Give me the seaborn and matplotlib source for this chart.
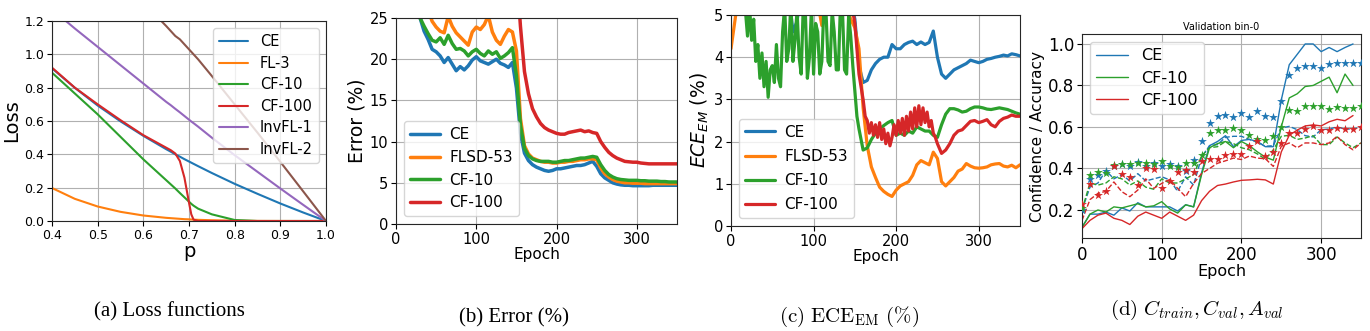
import matplotlib
matplotlib.use("Agg")
import matplotlib.pyplot as plt
import seaborn as sns
import numpy as np

# ---------------- (a) loss functions ----------------
p_vals = [0.40, 0.45, 0.50, 0.55, 0.60, 0.65, 0.66, 0.67, 0.68, 0.69, 0.70,
          0.705, 0.71, 0.72, 0.75, 0.80, 0.85, 0.90, 0.95, 1.00]
loss_ce = [0.916, 0.799, 0.693, 0.598, 0.511, 0.431, 0.416, 0.400, 0.386, 0.371, 0.357,
           0.350, 0.343, 0.329, 0.288, 0.223, 0.163, 0.105, 0.051, 0.0]
loss_fl3 = [0.198, 0.133, 0.087, 0.055, 0.033, 0.019, 0.017, 0.015, 0.013, 0.011, 0.010,
            0.009, 0.008, 0.007, 0.0045, 0.0018, 0.0005, 0.0001, 0.0, 0.0]
loss_cf10 = [0.89, 0.765, 0.64, 0.505, 0.37, 0.245, 0.22, 0.195, 0.168, 0.142, 0.116,
             0.103, 0.092, 0.074, 0.04, 0.006, 0.0, 0.0, 0.0, 0.0]
loss_cf100 = [0.92, 0.80, 0.70, 0.605, 0.515, 0.44, 0.425, 0.405, 0.36, 0.26, 0.11,
              0.04, 0.008, 0.0, 0.0, 0.0, 0.0, 0.0, 0.0, 0.0]
loss_invfl1 = [1.27, 1.155, 1.045, 0.935, 0.825, 0.715, 0.695, 0.673, 0.652, 0.63, 0.608,
               0.597, 0.587, 0.566, 0.5, 0.395, 0.295, 0.195, 0.097, 0.0]
loss_invfl2 = [1.85, 1.72, 1.59, 1.45, 1.31, 1.17, 1.14, 1.11, 1.09, 1.06, 1.03,
               1.015, 1.0, 0.97, 0.87, 0.70, 0.53, 0.355, 0.178, 0.0]

# ---------------- (b) error ----------------
epochs = list(range(0, 351, 5))

err_ce = [50.0, 44.0, 39.0, 35.0, 31.0, 27.5, 25.0, 23.4, 22.4, 21.2,
          20.9, 20.4, 19.6, 20.2, 19.4, 18.6, 19.1, 18.7, 19.2, 19.9,
          20.3, 19.8, 19.6, 19.4, 19.7, 20.0, 19.5, 19.3, 19.0, 19.6,
          16.5, 11.0, 8.6, 7.7, 7.2, 6.9, 6.7, 6.5, 6.4, 6.5,
          6.7, 6.7, 6.8, 6.9, 7.0, 7.1, 7.1, 7.2, 7.4, 7.6,
          7.0, 6.1, 5.6, 5.3, 5.0, 4.85, 4.75, 4.7, 4.7, 4.65,
          4.65, 4.65, 4.65, 4.65, 4.7, 4.7, 4.7, 4.7, 4.7, 4.7, 4.7]
err_flsd = [60.0, 52.0, 46.0, 41.0, 37.0, 33.0, 30.0, 28.0, 26.0, 24.6,
            23.9, 23.4, 23.2, 25.2, 24.0, 23.2, 22.7, 22.2, 21.7, 23.3,
            23.9, 23.6, 24.2, 25.3, 23.3, 22.3, 21.8, 22.8, 23.6, 23.3,
            21.0, 12.8, 9.5, 8.5, 8.0, 7.8, 7.6, 7.5, 7.5, 7.4,
            7.4, 7.5, 7.5, 7.6, 7.6, 7.7, 7.8, 7.8, 7.9, 7.9,
            7.8, 6.8, 6.1, 5.7, 5.4, 5.2, 5.1, 5.0, 5.0, 4.95,
            4.95, 4.95, 4.9, 4.9, 4.9, 4.9, 4.9, 4.9, 4.9, 4.9, 4.9]
err_cf10 = [52.0, 45.0, 40.0, 35.0, 31.0, 27.5, 25.0, 24.0, 23.1, 22.3,
            22.1, 22.6, 21.8, 22.9, 21.9, 21.2, 21.3, 21.0, 20.4, 20.9,
            21.2, 20.7, 20.4, 21.0, 20.6, 20.9, 20.1, 20.4, 20.8, 21.4,
            18.0, 12.0, 9.2, 8.3, 7.9, 7.7, 7.6, 7.6, 7.6, 7.5,
            7.5, 7.6, 7.7, 7.7, 7.8, 7.9, 8.0, 8.0, 8.1, 8.2,
            8.1, 7.2, 6.5, 6.0, 5.7, 5.5, 5.4, 5.35, 5.3, 5.3,
            5.3, 5.25, 5.25, 5.2, 5.2, 5.2, 5.15, 5.15, 5.1, 5.1, 5.1]
err_cf100 = [90.0, 80.0, 72.0, 66.0, 61.0, 57.0, 54.0, 51.0, 49.0, 47.0,
             45.5, 44.0, 43.0, 42.0, 41.0, 40.0, 39.5, 39.0, 38.5, 38.0,
             37.5, 37.0, 36.5, 36.0, 35.5, 35.0, 34.5, 34.0, 33.5, 33.0,
             31.0, 24.0, 18.5, 15.8, 14.0, 13.0, 12.2, 11.7, 11.4, 11.2,
             11.0, 10.9, 10.9, 11.1, 11.2, 11.3, 11.4, 11.2, 11.3, 11.1,
             11.0, 10.0, 9.3, 8.7, 8.3, 8.0, 7.8, 7.6, 7.55, 7.5,
             7.5, 7.4, 7.35, 7.3, 7.3, 7.3, 7.3, 7.3, 7.3, 7.3, 7.3]

# ---------------- (c) ECE ----------------
ece_ce = [7.5, 7.3, 7.0, 6.8, 6.6, 6.4, 6.2, 6.0, 5.9, 5.8,
          5.7, 5.6, 5.5, 5.4, 5.5, 4.6, 4.85, 5.6, 5.8, 5.7,
          5.9, 5.8, 5.7, 5.8, 5.6, 5.7, 5.6, 5.5, 5.6, 5.4,
          4.9, 3.8, 3.4, 3.45, 3.7, 3.85, 3.95, 4.0, 4.0, 4.3,
          4.2, 4.2, 4.3, 4.35, 4.38, 4.3, 4.36, 4.3, 4.35, 4.62,
          4.0, 3.6, 3.5, 3.6, 3.7, 3.75, 3.8, 3.85, 3.93, 3.9,
          3.87, 3.9, 3.95, 3.97, 4.0, 4.02, 4.05, 4.03, 4.08, 4.06, 4.03]
ece_flsd = [4.2, 4.9, 5.6, 6.0, 6.3, 6.4, 6.5, 6.4, 6.3, 6.2,
            6.1, 6.0, 5.9, 5.8, 5.8, 5.7, 5.6, 5.6, 5.5, 5.5,
            5.4, 5.3, 4.75, 5.3, 5.5, 5.4, 5.4, 5.5, 5.2, 4.9,
            4.7, 4.2, 2.8, 1.9, 1.4, 1.15, 0.92, 0.82, 0.75, 0.7,
            0.85, 0.95, 1.0, 1.05, 1.2, 1.45, 1.55, 1.5, 1.45, 1.75,
            1.6, 1.05, 0.95, 1.05, 1.15, 1.3, 1.35, 1.48, 1.42, 1.38,
            1.37, 1.38, 1.4, 1.45, 1.47, 1.48, 1.42, 1.4, 1.44, 1.38, 1.45]

# CF-10 is logged more densely while it is noisy (epochs 0-155)
ece_cf10_epochs = list(np.arange(0, 155.1, 2.5)) + list(range(160, 351, 5))
ece_cf10 = [6.5, 6.3, 6.0, 6.2, 5.8, 5.6, 5.3, 5.1, 4.5, 5.2,
            4.4, 4.9, 3.9, 4.3, 3.5, 4.1, 3.3, 3.9, 3.05, 3.7,
            3.8, 3.4, 4.3, 3.5, 3.3, 4.6, 5.2, 3.9, 4.2, 5.3,
            3.9, 4.4, 5.1, 4.0, 3.6, 5.2, 5.1, 3.5, 4.0, 5.2,
            3.6, 4.8, 4.6, 3.6, 3.9, 5.2, 5.1, 3.9, 3.8, 5.1,
            4.6, 3.7, 3.7, 5.2, 5.1, 3.7, 3.6, 5.0, 4.5, 3.8,
            3.2, 2.6, 2.3,
            1.8, 1.85, 2.05, 2.2, 2.3, 2.38, 2.45, 2.5,
            2.15, 2.2, 2.15, 2.25, 2.2, 2.35, 2.3, 2.25, 2.25, 2.15,
            2.1, 2.4, 2.65, 2.78, 2.78, 2.75, 2.7, 2.72, 2.78, 2.82,
            2.82, 2.8, 2.77, 2.76, 2.78, 2.8, 2.78, 2.76, 2.72, 2.68, 2.65]

# CF-100 is logged more densely while it is noisy (epochs 160-250)
ece_cf100_epochs = (list(range(0, 156, 5)) + list(np.arange(160, 250.1, 2.5))
                    + list(range(255, 351, 5)))
ece_cf100 = [7.0, 7.2, 7.4, 7.5, 7.6, 7.5, 7.4, 7.3, 7.2, 7.1,
             7.0, 6.9, 6.8, 6.7, 6.6, 6.5, 6.4, 6.3, 6.2, 6.1,
             6.0, 5.9, 5.8, 5.8, 5.7, 5.7, 5.6, 5.6, 5.5, 5.4,
             4.8, 3.6,
             3.0, 2.6, 2.5, 2.2, 2.45, 2.15, 2.4, 2.1, 2.45, 2.05,
             2.3, 1.95, 2.2, 1.9, 2.1, 2.4, 2.15, 2.5, 2.2, 2.55,
             2.15, 2.6, 2.25, 2.7, 2.3, 2.8, 2.35, 2.85, 2.4, 2.8,
             2.45, 2.7, 2.35, 2.5, 2.2, 2.1, 1.95,
             1.72, 1.8, 1.95, 2.15, 2.25, 2.28, 2.38, 2.48, 2.5,
             2.45, 2.48, 2.52, 2.4, 2.35, 2.48, 2.55, 2.58, 2.63, 2.6, 2.6]

# ---------------- (d) validation bin-0 ----------------
epochs_d_line = list(range(0, 341, 10))
epochs_d = list(range(0, 351, 10))

ce_line = [0.117, 0.18, 0.18, 0.19, 0.175, 0.21, 0.195, 0.235, 0.215, 0.215,
           0.215, 0.215, 0.195, 0.225, 0.215, 0.38, 0.51, 0.53, 0.558, 0.505,
           0.535, 0.54, 0.53, 0.505, 0.505, 0.73, 0.9, 0.95, 1.0, 1.0,
           0.963, 0.983, 0.963, 0.983, 1.0]
cf10_line = [0.115, 0.18, 0.2, 0.19, 0.215, 0.21, 0.22, 0.23, 0.215, 0.22,
             0.24, 0.205, 0.185, 0.225, 0.215, 0.37, 0.5, 0.52, 0.53, 0.5,
             0.53, 0.51, 0.48, 0.455, 0.44, 0.6, 0.74, 0.76, 0.795, 0.8,
             0.82, 0.84, 0.765, 0.855, 0.8]
cf100_line = [0.11, 0.15, 0.175, 0.185, 0.16, 0.15, 0.13, 0.17, 0.19, 0.175,
              0.16, 0.19, 0.17, 0.15, 0.175, 0.245, 0.29, 0.318, 0.325, 0.335,
              0.343, 0.345, 0.348, 0.345, 0.325, 0.48, 0.56, 0.585, 0.605, 0.61,
              0.605, 0.625, 0.637, 0.63, 0.655]

ce_dash = [0.2, 0.31, 0.33, 0.39, 0.35, 0.37, 0.34, 0.375, 0.34, 0.35,
           0.36, 0.345, 0.29, 0.36, 0.32, 0.455, 0.51, 0.515, 0.55, 0.555,
           0.555, 0.54, 0.527, 0.507, 0.51, 0.595, 0.603, 0.587, 0.558, 0.552,
           0.587, 0.59, 0.6, 0.59, 0.59, 0.6]
cf10_dash = [0.2, 0.33, 0.32, 0.33, 0.36, 0.35, 0.32, 0.34, 0.31, 0.3,
             0.35, 0.33, 0.33, 0.35, 0.37, 0.46, 0.5, 0.505, 0.53, 0.52,
             0.5, 0.49, 0.47, 0.445, 0.49, 0.555, 0.56, 0.54, 0.547, 0.558,
             0.515, 0.515, 0.552, 0.523, 0.5, 0.523]
cf100_dash = [0.15, 0.25, 0.28, 0.29, 0.335, 0.288, 0.264, 0.296, 0.35, 0.304,
              0.328, 0.347, 0.304, 0.264, 0.328, 0.376, 0.4, 0.425, 0.437, 0.45,
              0.443, 0.46, 0.45, 0.447, 0.41, 0.507, 0.523, 0.5, 0.523, 0.523,
              0.515, 0.523, 0.555, 0.515, 0.49, 0.523]

ce_star = [0.2, 0.35, 0.37, 0.39, 0.41, 0.42, 0.41, 0.43, 0.41, 0.424,
           0.41, 0.42, 0.41, 0.39, 0.44, 0.532, 0.619, 0.651, 0.659, 0.648,
           0.667, 0.648, 0.678, 0.654, 0.648, 0.723, 0.851, 0.886, 0.894, 0.894,
           0.883, 0.904, 0.907, 0.907, 0.91, 0.91]
cf10_star = [0.21, 0.367, 0.383, 0.38, 0.418, 0.42, 0.42, 0.424, 0.424, 0.42,
             0.436, 0.41, 0.408, 0.424, 0.425, 0.464, 0.571, 0.585, 0.587, 0.594,
             0.587, 0.562, 0.542, 0.539, 0.558, 0.6, 0.68, 0.678, 0.702, 0.702,
             0.702, 0.686, 0.696, 0.691, 0.691, 0.702]
cf100_star = [0.23, 0.325, 0.272, 0.29, 0.41, 0.375, 0.36, 0.32, 0.40, 0.398,
              0.307, 0.34, 0.382, 0.395, 0.385, 0.435, 0.447, 0.447, 0.465, 0.472,
              0.472, 0.51, 0.53, 0.458, 0.48, 0.523, 0.57, 0.572, 0.588, 0.603,
              0.585, 0.585, 0.595, 0.588, 0.588, 0.6]

BLUE, ORANGE, GREEN, RED, PURPLE, BROWN = (
    "#1f77b4", "#ff7f0e", "#2ca02c", "#d62728", "#9467bd", "#8c564b")

sns.set_theme(style="whitegrid", rc={
    "axes.edgecolor": "0.15",
    "axes.linewidth": 0.8,
    "grid.color": "#b0b0b0",
    "grid.linewidth": 0.8,
    "xtick.bottom": True,
    "ytick.left": True,
    "xtick.major.size": 3.5,
    "ytick.major.size": 3.5,
    "xtick.major.width": 0.8,
    "ytick.major.width": 0.8,
    "xtick.color": "black",
    "ytick.color": "black",
    "axes.labelcolor": "black",
    "text.color": "black",
    "legend.frameon": True,
    "legend.framealpha": 0.8,
    "legend.edgecolor": "0.8",
    "legend.fancybox": True,
})
plt.rcParams["font.family"] = ["DejaVu Sans"]


def line(ax, x, y, color, lw, label=None, ls="-"):
    sns.lineplot(x=x, y=y, ax=ax, color=color, lw=lw, label=label,
                 linestyle=ls, estimator=None, sort=False, legend=False)


W, H = 1370, 331
fig = plt.figure(figsize=(W / 100, H / 100), dpi=100)

# (a)
ax = fig.add_axes([52 / W, 1 - 221 / H, 274 / W, 200 / H])
for y, c, lab in [(loss_ce, BLUE, "CE"), (loss_fl3, ORANGE, "FL-3"),
                  (loss_cf10, GREEN, "CF-10"), (loss_cf100, RED, "CF-100"),
                  (loss_invfl1, PURPLE, "InvFL-1"), (loss_invfl2, BROWN, "InvFL-2")]:
    line(ax, p_vals, y, c, 1.5, lab)
ax.set_xlim(0.4, 1.0)
ax.set_ylim(0, 1.2)
ax.set_xticks([0.4, 0.5, 0.6, 0.7, 0.8, 0.9, 1.0])
ax.set_yticks([0.0, 0.2, 0.4, 0.6, 0.8, 1.0, 1.2])
ax.tick_params(labelsize=9, pad=2)
ax.set_xlabel("p", fontsize=14, labelpad=0)
ax.set_ylabel("Loss", fontsize=14, labelpad=2)
ax.legend(loc="upper right", fontsize=10.5, labelspacing=0.45)

# (b)
ax = fig.add_axes([396 / W, 1 - 224 / H, 281 / W, 206 / H])
for y, c, lab in [(err_ce, BLUE, "CE"), (err_flsd, ORANGE, "FLSD-53"),
                  (err_cf10, GREEN, "CF-10"), (err_cf100, RED, "CF-100")]:
    line(ax, epochs, y, c, 2.5, lab)
ax.set_xlim(0, 350)
ax.set_ylim(0, 25)
ax.set_xticks([0, 100, 200, 300])
ax.set_yticks([0, 5, 10, 15, 20, 25])
ax.tick_params(labelsize=10.5, pad=2)
ax.set_xlabel("Epoch", fontsize=11, labelpad=0)
ax.set_ylabel("Error (%)", fontsize=13.5, labelpad=2)
ax.legend(loc="lower left", fontsize=11, labelspacing=0.5, handletextpad=0.6)

# (c)
ax = fig.add_axes([731 / W, 1 - 226 / H, 289 / W, 211 / H])
for x, y, c, lab in [(epochs, ece_ce, BLUE, "CE"), (epochs, ece_flsd, ORANGE, "FLSD-53"),
                     (ece_cf10_epochs, ece_cf10, GREEN, "CF-10"),
                     (ece_cf100_epochs, ece_cf100, RED, "CF-100")]:
    line(ax, x, y, c, 2.3, lab)
ax.set_xlim(0, 350)
ax.set_ylim(0, 5)
ax.set_xticks([0, 100, 200, 300])
ax.set_yticks([0, 1, 2, 3, 4, 5])
ax.tick_params(labelsize=10.5, pad=2)
ax.set_xlabel("Epoch", fontsize=11, labelpad=0)
ax.set_ylabel("$ECE_{EM}$ (%)", fontsize=13.5, labelpad=2)
ax.legend(loc="lower left", fontsize=11, labelspacing=0.6, handletextpad=0.6)

# (d)
ax = fig.add_axes([1082 / W, 1 - 238 / H, 279 / W, 204 / H])
groups = [("CE", BLUE, ce_line, ce_dash, ce_star),
          ("CF-10", GREEN, cf10_line, cf10_dash, cf10_star),
          ("CF-100", RED, cf100_line, cf100_dash, cf100_star)]
for lab, c, ys, yd, yst in groups:
    line(ax, epochs_d_line, ys, c, 1.0, lab)
    line(ax, epochs_d, yd, c, 1.0, None, "--")
    sns.scatterplot(x=epochs_d, y=yst, ax=ax, color=c, marker="*", s=45,
                    linewidth=0, zorder=3, legend=False)
ax.set_xlim(0, 350)
ax.set_ylim(0.065, 1.048)
ax.set_xticks([0, 100, 200, 300])
ax.set_yticks([0.2, 0.4, 0.6, 0.8, 1.0])
ax.tick_params(labelsize=12, pad=2)
ax.set_xlabel("Epoch", fontsize=11.5, labelpad=0)
ax.set_ylabel("Confidence / Accuracy", fontsize=11, labelpad=2)
ax.set_title("Validation bin-0", fontsize=7, pad=3)
ax.legend(loc="upper left", fontsize=11.5, labelspacing=0.45, handletextpad=0.8)

# captions
fig.text(0.124, 0.057, "(a) Loss functions", ha="center", va="center",
         fontsize=15, family="Liberation Serif")
fig.text(0.375, 0.040, "(b) Error (%)", ha="center", va="center",
         fontsize=15, family="Liberation Serif")
fig.text(0.620, 0.042, r"$\mathrm{(c)\ ECE_{EM}\ (\%)}$", ha="center", va="center",
         fontsize=15, math_fontfamily="cm")
fig.text(0.8735, 0.063, r"$\mathrm{(d)}\ C_{train}, C_{val}, A_{val}$", ha="center",
         va="center", fontsize=15, math_fontfamily="cm")

fig.savefig("out.png", dpi=100)
